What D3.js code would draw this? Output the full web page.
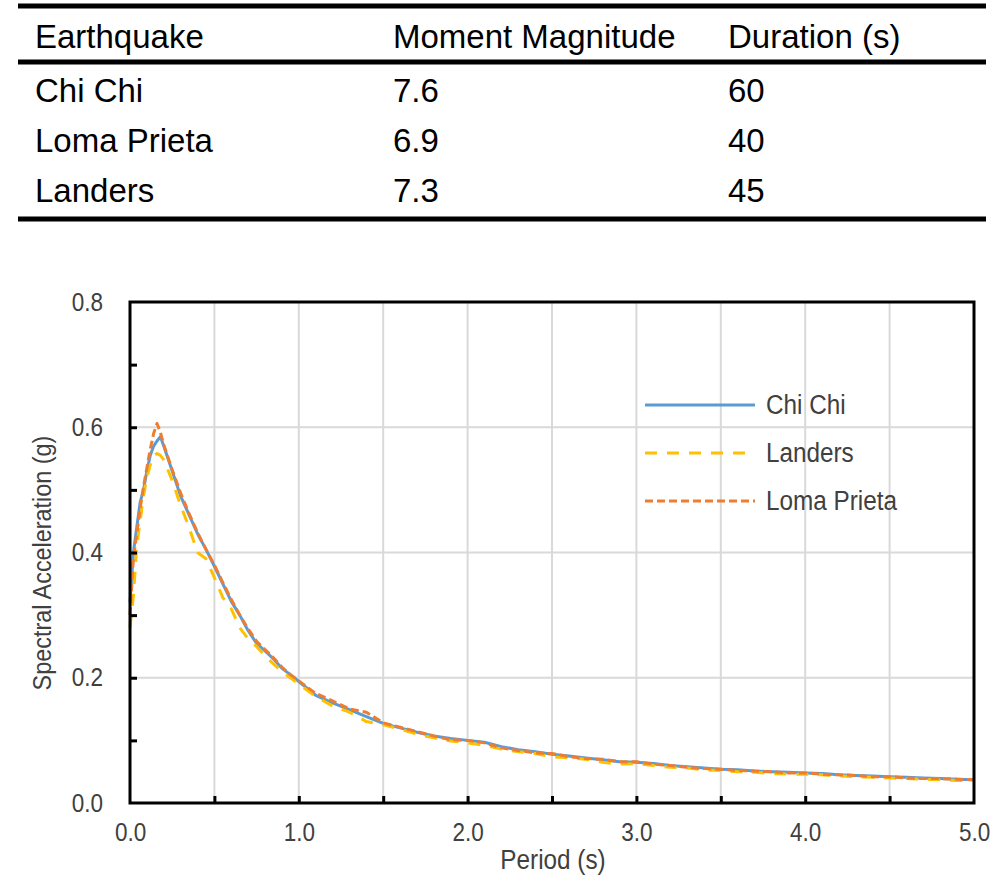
<!DOCTYPE html>
<html>
<head>
<meta charset="utf-8">
<script src="https://cdn.jsdelivr.net/npm/d3@7"></script>
<style>
  html, body { margin: 0; padding: 0; background: #fff; }
  svg { display: block; }
</style>
</head>
<body>
<svg id="chart" width="1004" height="888"></svg>
<script>
// ---------- Table data ----------
const tableHeaders = ["Earthquake", "Moment Magnitude", "Duration (s)"];
const quakes = ["Chi Chi", "Loma Prieta", "Landers"];
const magnitudes = ["7.6", "6.9", "7.3"];
const durations = ["60", "40", "45"];

// ---------- Chart data ----------
const seriesNames = ["Chi Chi", "Landers", "Loma Prieta"];
const periods = [0, 0.02, 0.04, 0.06, 0.08, 0.10, 0.12, 0.14, 0.16, 0.18, 0.20, 0.25, 0.30, 0.35, 0.40, 0.45, 0.50, 0.55, 0.60, 0.65, 0.70, 0.75, 0.80, 0.85, 0.90, 0.95,
  1.0, 1.1, 1.2, 1.3, 1.4, 1.5, 1.6, 1.7, 1.8, 1.9, 2.0, 2.1, 2.2, 2.3, 2.4, 2.5, 2.6, 2.7, 2.8, 2.9, 3.0,
  3.1, 3.2, 3.3, 3.4, 3.5, 3.6, 3.7, 3.8, 3.9, 4.0, 4.1, 4.2, 4.3, 4.4, 4.5, 4.6, 4.7, 4.8, 4.9, 5.0];
const chiChi = [0.32, 0.40, 0.44, 0.48, 0.50, 0.53, 0.555, 0.57, 0.578, 0.585, 0.57, 0.53, 0.49, 0.46, 0.43, 0.405, 0.378, 0.35, 0.322, 0.30, 0.275, 0.255, 0.243, 0.23, 0.215, 0.205,
  0.194, 0.172, 0.16, 0.149, 0.138, 0.127, 0.12, 0.113, 0.107, 0.103, 0.10, 0.097, 0.09, 0.085, 0.082, 0.078, 0.075, 0.072, 0.069, 0.066, 0.065,
  0.063, 0.06, 0.058, 0.056, 0.054, 0.053, 0.051, 0.05, 0.049, 0.048, 0.047, 0.045, 0.044, 0.043, 0.042, 0.041, 0.04, 0.039, 0.038, 0.037];
const landers = [0.28, 0.33, 0.41, 0.45, 0.49, 0.52, 0.54, 0.555, 0.558, 0.555, 0.548, 0.515, 0.475, 0.44, 0.40, 0.39, 0.36, 0.328, 0.31, 0.28, 0.262, 0.25, 0.235, 0.222, 0.21, 0.20,
  0.19, 0.17, 0.155, 0.145, 0.13, 0.125, 0.118, 0.11, 0.104, 0.099, 0.096, 0.092, 0.086, 0.082, 0.079, 0.074, 0.072, 0.07, 0.065, 0.062, 0.063,
  0.06, 0.057, 0.056, 0.053, 0.052, 0.05, 0.049, 0.047, 0.046, 0.046, 0.045, 0.043, 0.042, 0.041, 0.04, 0.039, 0.038, 0.037, 0.036, 0.036];
const lomaPrieta = [0.30, 0.39, 0.43, 0.47, 0.505, 0.535, 0.565, 0.59, 0.606, 0.592, 0.572, 0.532, 0.495, 0.462, 0.432, 0.405, 0.38, 0.352, 0.325, 0.30, 0.278, 0.258, 0.245, 0.232, 0.217, 0.205,
  0.195, 0.175, 0.163, 0.15, 0.145, 0.128, 0.121, 0.114, 0.107, 0.101, 0.10, 0.096, 0.088, 0.084, 0.08, 0.079, 0.074, 0.071, 0.07, 0.066, 0.066,
  0.062, 0.06, 0.057, 0.055, 0.054, 0.052, 0.051, 0.05, 0.048, 0.048, 0.046, 0.045, 0.044, 0.042, 0.042, 0.04, 0.039, 0.039, 0.038, 0.037];
const xTickLabels = [0, 1, 2, 3, 4, 5];
const xMinorTicks = [0.5, 1, 1.5, 2, 2.5, 3, 3.5, 4, 4.5];
const yTickLabels = [0, 0.2, 0.4, 0.6, 0.8];
const yMinorTicks = [0.1, 0.2, 0.3, 0.4, 0.5, 0.6, 0.7];
const xGrid = [0.5, 1, 1.5, 2, 2.5, 3, 3.5, 4, 4.5];
const yGrid = [0.2, 0.4, 0.6];

const svg = d3.select("#chart");
const FONT = "'Liberation Sans', Arial, sans-serif";
const SX = 0.9; // chart text is slightly condensed

// ---------- Table ----------
const tbl = svg.append("g");
const colX = [35, 393, 728];
const ruleX = [18, 986];
[[6, 5], [62, 5], [219, 5]].forEach(([yy, w]) => {
  tbl.append("line").attr("x1", ruleX[0]).attr("x2", ruleX[1]).attr("y1", yy).attr("y2", yy)
    .attr("stroke", "#000").attr("stroke-width", w);
});
tableHeaders.forEach((h, i) => {
  tbl.append("text").attr("x", colX[i]).attr("y", 48).text(h)
    .attr("font-family", FONT).attr("font-size", 33).attr("fill", "#000");
});
quakes.forEach((q, r) => {
  const yy = 102 + r * 50;
  [q, magnitudes[r], durations[r]].forEach((v, i) => {
    tbl.append("text").attr("x", colX[i]).attr("y", yy).text(v)
      .attr("font-family", FONT).attr("font-size", 33).attr("fill", "#000");
  });
});

// ---------- Chart ----------
const x = d3.scaleLinear().domain([0, 5]).range([130, 974]);
const y = d3.scaleLinear().domain([0, 0.8]).range([803, 302]);
const TXT = "#404040";

const g = svg.append("g");
// gridlines
g.selectAll(".vg").data(xGrid).enter().append("line")
  .attr("x1", d => x(d)).attr("x2", d => x(d)).attr("y1", y(0)).attr("y2", y(0.8))
  .attr("stroke", "#d9d9d9").attr("stroke-width", 2);
g.selectAll(".hg").data(yGrid).enter().append("line")
  .attr("x1", x(0)).attr("x2", x(5)).attr("y1", d => y(d)).attr("y2", d => y(d))
  .attr("stroke", "#d9d9d9").attr("stroke-width", 2);

// series
const series = [
  { name: seriesNames[0], values: chiChi, color: "#5B9BD5", dash: null },
  { name: seriesNames[1], values: landers, color: "#FFC000", dash: "12,10" },
  { name: seriesNames[2], values: lomaPrieta, color: "#ED7D31", dash: "8,4" }
];
const line = d3.line().x((d, i) => x(periods[i])).y(d => y(d));
series.forEach(s => {
  g.append("path").datum(s.values).attr("d", line)
    .attr("fill", "none").attr("stroke", s.color).attr("stroke-width", 3)
    .attr("stroke-dasharray", s.dash).attr("stroke-linejoin", "round");
});

// axes: minor ticks
const xMinor = d3.axisBottom(x).tickValues(xMinorTicks).tickSize(-7).tickFormat("");
g.append("g").attr("transform", `translate(0,${y(0)})`).call(xMinor)
  .call(a => a.select(".domain").remove())
  .call(a => a.selectAll("line").attr("stroke", "#000").attr("stroke-width", 3));
const yMinor = d3.axisLeft(y).tickValues(yMinorTicks).tickSize(-7).tickFormat("");
g.append("g").attr("transform", `translate(${x(0)},0)`).call(yMinor)
  .call(a => a.select(".domain").remove())
  .call(a => a.selectAll("line").attr("stroke", "#000").attr("stroke-width", 3));

// labels
const xLab = d3.axisBottom(x).tickValues(xTickLabels).tickSize(0).tickPadding(20).tickFormat(d3.format(".1f"));
g.append("g").attr("transform", `translate(0,${y(0)})`).call(xLab)
  .call(a => a.select(".domain").remove())
  .call(a => a.selectAll("text").attr("font-family", FONT).attr("font-size", 25).attr("fill", TXT)
    .attr("transform", `scale(${SX},1)`));
const yLab = d3.axisLeft(y).tickValues(yTickLabels).tickSize(0).tickPadding(27).tickFormat(d3.format(".1f"));
g.append("g").attr("transform", `translate(${x(0)},0)`).call(yLab)
  .call(a => a.select(".domain").remove())
  .call(a => a.selectAll("text").attr("font-family", FONT).attr("font-size", 25).attr("fill", TXT)
    .attr("x", -27 / SX).attr("transform", `scale(${SX},1)`));

// frame
g.append("rect").attr("x", x(0)).attr("y", y(0.8)).attr("width", x(5) - x(0)).attr("height", y(0) - y(0.8))
  .attr("fill", "none").attr("stroke", "#000").attr("stroke-width", 3);

// axis titles
g.append("text").attr("transform", `translate(${(x(0) + x(5)) / 2 + 1},869) scale(${SX},1)`).attr("text-anchor", "middle")
  .attr("font-family", FONT).attr("font-size", 27).attr("fill", TXT).text("Period (s)");
g.append("text").attr("transform", `translate(51,563) rotate(-90) scale(${SX},1)`).attr("text-anchor", "middle")
  .attr("font-family", FONT).attr("font-size", 26).attr("fill", TXT).text("Spectral Acceleration (g)");

// legend
const leg = g.append("g");
series.forEach((s, i) => {
  const ly = 405 + i * 48;
  leg.append("line").attr("x1", 645).attr("x2", 755).attr("y1", ly).attr("y2", ly)
    .attr("stroke", s.color).attr("stroke-width", 3).attr("stroke-dasharray", s.dash);
  leg.append("text").attr("transform", `translate(766,${ly}) scale(${SX},1)`).attr("dy", "0.35em")
    .attr("font-family", FONT).attr("font-size", 27).attr("fill", TXT).text(s.name);
});
</script>
</body>
</html>
